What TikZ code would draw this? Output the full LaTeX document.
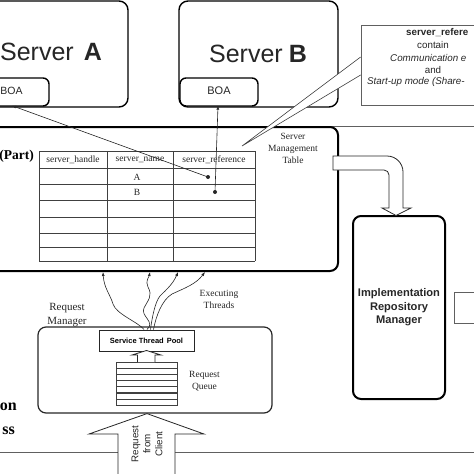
\documentclass[tikz,border=0pt]{standalone}
\usepackage{fontspec}
\setmainfont{Liberation Serif}
\setsansfont{Liberation Sans}
\usetikzlibrary{arrows.meta,positioning,calc}

\begin{document}
\begin{tikzpicture}[
  x=1pt,y=-1pt,
  srvbox/.style={draw,line width=1.4pt,rounded corners=9pt,fill=white,inner sep=0pt},
  boabox/.style={draw,line width=1.4pt,rounded corners=6pt,fill=white,inner sep=0pt},
  orbbox/.style={draw,line width=2pt,rounded corners=8pt,fill=white,inner sep=0pt},
  thinbox/.style={draw=gray!75!black,line width=0.7pt},
  lbl/.style={inner sep=0pt,align=center,text=black!85,font=\fontsize{9.5}{11.7}\selectfont},
  sflbl/.style={inner sep=0pt,align=center,text=black!85,font=\sffamily\fontsize{9.8}{12}\selectfont},
  ptr/.style={-{Latex[length=4pt,width=3pt]},line width=0.6pt,black!85},
  hollow/.style={draw=black!85,line width=0.8pt,fill=white,line join=miter},
  thread/.style={-{Latex[length=4pt,width=3pt]},line width=0.6pt,black!85},
  tabline/.style={draw=black!75,line width=0.6pt}
]
\clip (0,0) rectangle (474,474);
% process border
\draw[thinbox] (-20,126) rectangle (500,452);

% servers
\node[srvbox,minimum width=150pt,minimum height=106pt] (srvA) at (53,54) {};
\node[srvbox,minimum width=159pt,minimum height=106pt] (srvB) at (258.5,54) {};
\node[inner sep=0pt,text=black!85,font=\sffamily\fontsize{25}{30}\selectfont] (srvAname) at (51,52) {Server\hspace{10pt}\textbf{A}};
\node[inner sep=0pt,text=black!85,font=\sffamily\fontsize{25}{30}\selectfont] (srvBname) at (258,54) {Server\hspace{6pt}\textbf{B}};
\node[boabox,minimum width=79pt,minimum height=28pt] (boaA) at (9.5,92) {};
\node[boabox,minimum width=78pt,minimum height=28pt] (boaB) at (219,92) {};
\node[sflbl,font=\sffamily\fontsize{10.5}{13}\selectfont] (boaAtxt) at (11.5,91) {BOA};
\node[sflbl,font=\sffamily\fontsize{11}{13}\selectfont] (boaBtxt) at (219,91) {BOA};

% ORB part with management table
\node[orbbox,minimum width=368pt,minimum height=144pt] (orb) at (154,199) {};
\node[inner sep=0pt,anchor=east,font=\bfseries\fontsize{13.5}{16}\selectfont] (orbname) at (34,156) {(Part)};
\foreach \y in {151,168,184,200,217,233,247,261}
  \draw[tabline] (39,\y) -- (255,\y);
\foreach \x in {39,107,173,255}
  \draw[tabline] (\x,151) -- (\x,261);
\node[lbl] (hhandle) at (73,159.5) {server\_handle};
\node[lbl] (hname) at (140,159.5) {server\_name};
\node[lbl] (hrefer) at (214,159.5) {server\_reference};
\node[lbl] (nameA) at (137,177.5) {A};
\node[lbl] (nameB) at (137,192) {B};
\node[lbl] (tabname) at (293,148.3) {Server\\Management\\Table};
\coordinate (refA) at (208,177);
\coordinate (refB) at (215,192);
\fill[black!85] (refA) circle (2pt) (refB) circle (2pt);
\draw[ptr] (refA) -- ($(boaA.south)+(2.5,-1)$);
\draw[ptr] (refB) -- ($(boaB.south)+(-1,-1)$);

% note on server_reference
\node[thinbox,minimum width=139pt,minimum height=80pt,inner sep=0pt] (note) at (430.5,65) {};
\coordinate (tip) at (242,146);
\fill[white] ($(note.west)+(0,-8)$) -- (tip) -- ($(note.west)+(0,10)$) -- cycle;
\draw[line width=0.6pt,black!75] ($(note.west)+(0,-8)$) -- (tip) -- ($(note.west)+(0,10)$);
\node[sflbl,anchor=west,font=\sffamily\bfseries\fontsize{9.8}{12}\selectfont] (n1) at (406,33) {server\_refere};
\node[sflbl] (n2) at (433,45) {contain};
\node[sflbl,anchor=west,font=\sffamily\itshape\fontsize{9.8}{12}\selectfont] (n3) at (390,57.5) {Communication e};
\node[sflbl] (n4) at (433,70) {and};
\node[sflbl,anchor=west,font=\sffamily\itshape\fontsize{9.8}{12}\selectfont] (n5) at (367,82) {Start-up mode (Share-};

% implementation repository
\node[draw,line width=2pt,rounded corners=8pt,minimum width=92pt,minimum height=183pt,align=center,
  text=black!85,font=\sffamily\bfseries\fontsize{11.1}{13.5}\selectfont] (irm) at (399,307.5)
  {Implementation\\Repository\\Manager};
\node[thinbox,minimum width=46pt,minimum height=31pt,inner sep=0pt] (side) at (477,307.5) {};
\draw[hollow] (333,156) [rounded corners=16pt] -- (403,156) -- (403,190) [sharp corners] -- (403,208)
  -- (411,208) -- (396,215.5) -- (382,208) -- (389,208) [rounded corners=5pt] -- (389,170) -- (360,170)
  [sharp corners] -- (333,170) -- cycle;

% request manager
\node[draw=black!85,line width=1.2pt,rounded corners=8pt,minimum width=234pt,minimum height=86pt] (reqmgr) at (155,370) {};
\node[lbl,font=\fontsize{11}{13.5}\selectfont] (reqmgrname) at (67,315) {Request\\Manager};
\node[draw=black!85,line width=1pt,minimum width=95pt,minimum height=21pt,inner sep=0pt,
  font=\sffamily\bfseries\fontsize{7.5}{9}\selectfont] (pool) at (146.5,340.5) {Service Thread\hspace{3pt}Pool};
\foreach \y in {362,368,374,380,386,393,399}
  \draw[line width=0.6pt,black!75] (116,\y) rectangle (177,\y+6);
\node[lbl] (queuename) at (204.5,381) {Request\\Queue};
\draw[hollow] (137.5,362) -- (137.5,355) -- (132,355) -- (146.5,350.5) -- (161,355) -- (155,355) -- (155,362);

% executing threads
\coordinate (t1) at (103,272);
\coordinate (t2) at (150,272);
\coordinate (t3) at (178,272);
\coordinate (t4) at (205,272);
\draw[thread] ($(pool.north)+(-2.5,0)$) .. controls (138,322) and (116,314) .. (113,304)
  .. controls (110,294) and (104,288) .. (t1);
\draw[thread] ($(pool.north)+(0.5,0)$) .. controls (156,322) and (140,316) .. (144,308)
  .. controls (148,300) and (153,296) .. (148,287) .. controls (145,281) and (149,277) .. (t2);
\draw[thread] ($(pool.north)+(4,0)$) .. controls (152,318) and (155,302) .. (160,296)
  .. controls (166,290) and (173,284) .. (t3);
\draw[thread] ($(pool.north)+(7,0)$) .. controls (156,316) and (162,300) .. (172,294)
  .. controls (185,288) and (196,284) .. (t4);
\node[lbl] (threadname) at (219,299.5) {Executing\\Threads};

% request from client
\draw[hollow] (118,480) -- (118,434) -- (89,434) -- (reqmgr.south -| 147,0) -- (204,434) -- (175,434) -- (175,480);
\node[sflbl,rotate=90] (client) at (147,444) {Request\\from\\Client};

% process name
\node[inner sep=0pt,anchor=east,font=\bfseries\fontsize{16}{19}\selectfont] (procA) at (17,407) {on};
\node[inner sep=0pt,anchor=east,font=\bfseries\fontsize{16}{19}\selectfont] (procB) at (15,431) {ss};
\end{tikzpicture}
\end{document}
